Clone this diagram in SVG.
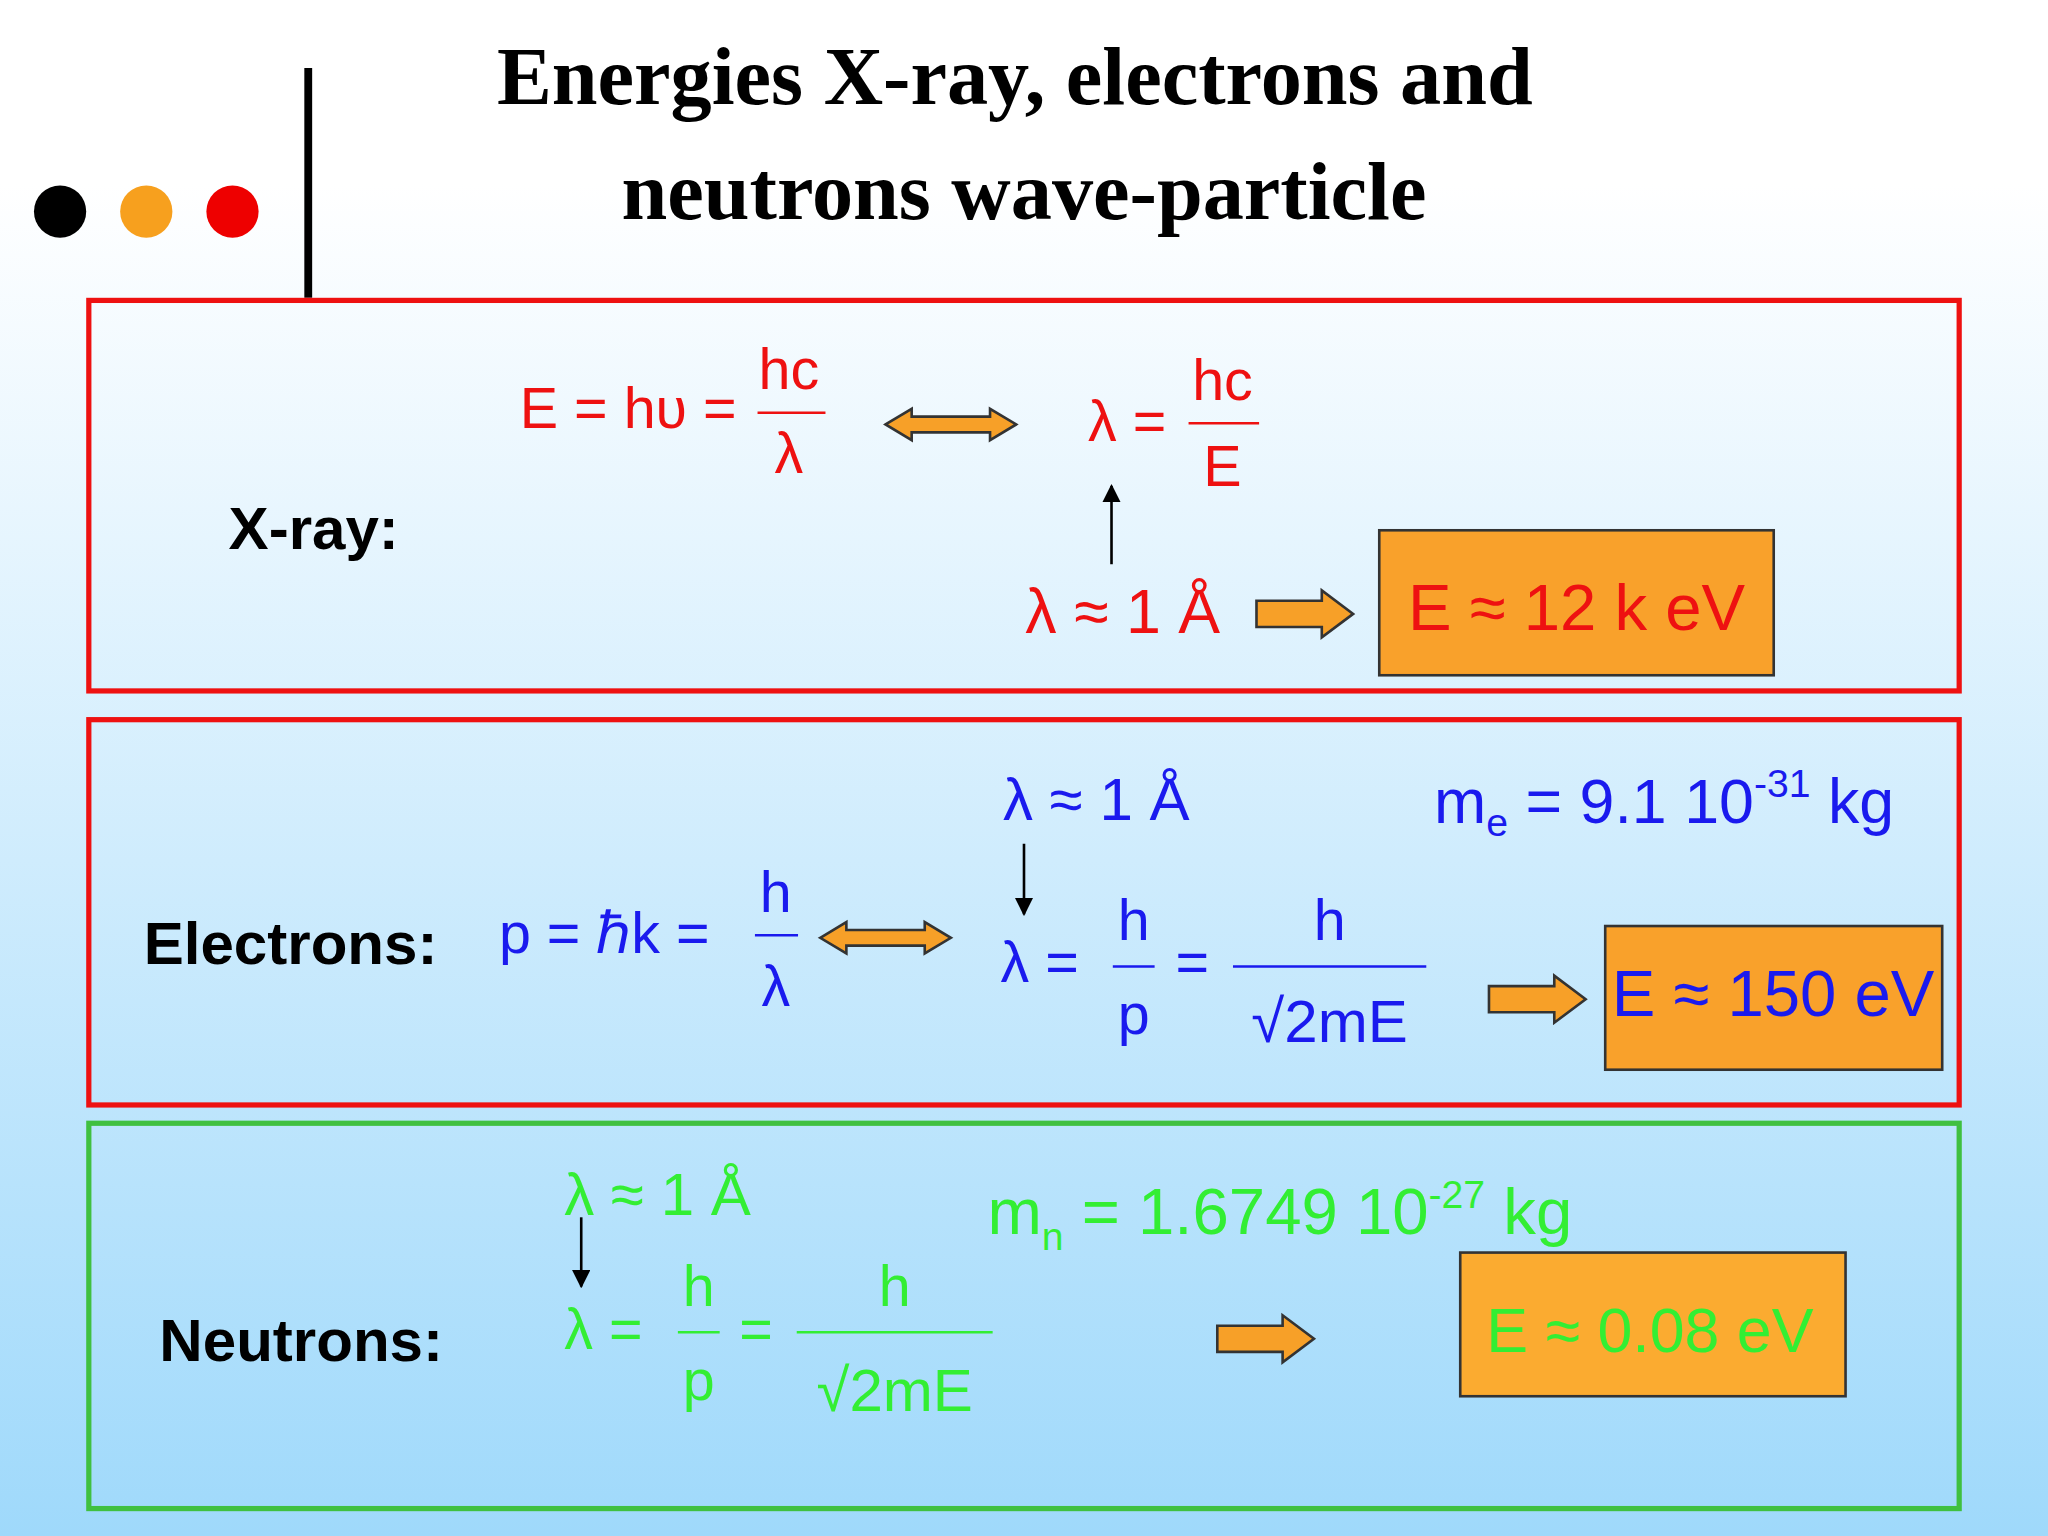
<svg xmlns="http://www.w3.org/2000/svg" width="2048" height="1536" viewBox="0 0 2048 1536">
<defs>
<linearGradient id="bg" x1="0" y1="0" x2="0" y2="1"><stop offset="0" stop-color="#ffffff"/><stop offset="0.12" stop-color="#ffffff"/><stop offset="1" stop-color="#9fd9fb"/></linearGradient>
<marker id="ah" viewBox="0 0 10 10" refX="9" refY="5" markerWidth="7" markerHeight="7" orient="auto"><path d="M0,0 L10,5 L0,10 z" fill="#000"/></marker>
<g id="barrow"><path d="M0,-10 L50,-10 L50,-18 L74,0 L50,18 L50,10 L0,10 z" fill="#f7a028" stroke="#333" stroke-width="2"/></g>
<g id="darrow"><path d="M0,0 L20,-12 L20,-6 L80,-6 L80,-12 L100,0 L80,12 L80,6 L20,6 L20,12 z" fill="#f7a028" stroke="#333" stroke-width="2"/></g>
</defs>
<style>
.m{font-family:"Liberation Sans",Arial,sans-serif;font-size:44px}
.b{font-family:"Liberation Sans",Arial,sans-serif;font-size:46px;font-weight:bold;fill:#000}
.t{font-family:"Liberation Serif","DejaVu Serif",serif;font-size:63px;font-weight:bold;fill:#000}
.r{fill:#ee1111}.bl{fill:#1a1aee}.g{fill:#33ee33}
.fr{stroke-width:2}
</style>
<rect width="2048" height="1536" fill="url(#bg)"/>
<g transform="scale(1.30612)">
<g id="title">
<text class="t" x="777" y="80" text-anchor="middle">Energies X-ray, electrons and</text>
<text class="t" x="784" y="168" text-anchor="middle">neutrons wave-particle</text>
<circle cx="46" cy="162" r="20" fill="#000"/><circle cx="112" cy="162" r="20" fill="#f7a01e"/><circle cx="178" cy="162" r="20" fill="#ee0000"/>
<line x1="236" y1="52" x2="236" y2="228" stroke="#000" stroke-width="6"/>
</g>
<g id="xray">
<rect x="68" y="230" width="1432" height="299" fill="none" stroke="#ee1111" stroke-width="4"/>
<text class="b" x="175" y="420">X-ray:</text>
<text class="m r" x="398" y="328">E = hυ =</text>
<text class="m r" x="604" y="298" text-anchor="middle">hc</text><line x1="580" y1="316" x2="632" y2="316" stroke="#ee1111" class="fr"/><text class="m r" x="604" y="362" text-anchor="middle">λ</text>
<text class="m r" x="833" y="338">λ =</text>
<text class="m r" x="936" y="306" text-anchor="middle">hc</text><line x1="910" y1="324" x2="964" y2="324" stroke="#ee1111" class="fr"/><text class="m r" x="936" y="372" text-anchor="middle">E</text>
<text class="m r" x="785" y="485" style="font-size:48px">λ ≈ 1 Å</text>
<rect x="1056" y="406" width="302" height="111" fill="#f9a12b" stroke="#333" stroke-width="2"/>
<text class="m r" x="1078" y="482" style="font-size:50px">E ≈ 12 k eV</text>
</g>
<g id="electrons">
<rect x="68" y="551" width="1432" height="295" fill="none" stroke="#ee1111" stroke-width="4"/>
<text class="b" x="110" y="738">Electrons:</text>
<text class="m bl" x="382" y="730">p = ℏk =</text>
<text class="m bl" x="594" y="698" text-anchor="middle">h</text><line x1="578" y1="716" x2="611" y2="716" stroke="#1a1aee" class="fr"/><text class="m bl" x="594" y="770" text-anchor="middle">λ</text>
<text class="m bl" x="768" y="628" style="font-size:46px">λ ≈ 1 Å</text>
<text class="m bl" x="1098" y="630" style="font-size:48px">m<tspan dy="10" font-size="30">e</tspan><tspan dy="-10"> = 9.1 10</tspan><tspan dy="-20" font-size="30">-31</tspan><tspan dy="20"> kg</tspan></text>
<text class="m bl" x="766" y="752">λ =</text>
<text class="m bl" x="868" y="720" text-anchor="middle">h</text><line x1="852" y1="740" x2="884" y2="740" stroke="#1a1aee" class="fr"/><text class="m bl" x="868" y="792" text-anchor="middle">p</text>
<text class="m bl" x="900" y="752">=</text>
<text class="m bl" x="1018" y="720" text-anchor="middle">h</text><line x1="944" y1="740" x2="1092" y2="740" stroke="#1a1aee" class="fr"/><text class="m bl" x="1018" y="798" text-anchor="middle" style="font-size:46px">√2mE</text>
<rect x="1229" y="709" width="258" height="110" fill="#f9a12b" stroke="#333" stroke-width="2"/>
<text class="m bl" x="1234" y="778" style="font-size:50px">E ≈ 150 eV</text>
</g>
<g id="neutrons">
<rect x="68" y="860" width="1432" height="295" fill="none" stroke="#40c040" stroke-width="4"/>
<text class="b" x="122" y="1042">Neutrons:</text>
<text class="m g" x="432" y="930" style="font-size:46px">λ ≈ 1 Å</text>
<text class="m g" x="756" y="945" style="font-size:50px">m<tspan dy="12" font-size="30">n</tspan><tspan dy="-12"> = 1.6749 10</tspan><tspan dy="-20" font-size="30">-27</tspan><tspan dy="20"> kg</tspan></text>
<text class="m g" x="432" y="1033">λ =</text>
<text class="m g" x="535" y="1000" text-anchor="middle">h</text><line x1="519" y1="1020" x2="551" y2="1020" stroke="#33ee33" class="fr"/><text class="m g" x="535" y="1072" text-anchor="middle">p</text>
<text class="m g" x="566" y="1033">=</text>
<text class="m g" x="685" y="1000" text-anchor="middle">h</text><line x1="610" y1="1020" x2="760" y2="1020" stroke="#33ee33" class="fr"/><text class="m g" x="685" y="1080" text-anchor="middle" style="font-size:46px">√2mE</text>
<rect x="1118" y="959" width="295" height="110" fill="#fbab30" stroke="#333" stroke-width="2"/>
<text class="m g" x="1138" y="1035" style="font-size:48px">E ≈ 0.08 eV</text>
</g>
<g id="connectors">
<use href="#darrow" x="678" y="325"/>
<use href="#darrow" x="628" y="718"/>
<use href="#barrow" x="962" y="470"/>
<use href="#barrow" x="1140" y="765"/>
<use href="#barrow" x="932" y="1025"/>
<line x1="851" y1="432" x2="851" y2="372" stroke="#000" stroke-width="2" marker-end="url(#ah)"/>
<line x1="784" y1="646" x2="784" y2="700" stroke="#000" stroke-width="2" marker-end="url(#ah)"/>
<line x1="445" y1="932" x2="445" y2="985" stroke="#000" stroke-width="2" marker-end="url(#ah)"/>
</g>
</g>
</svg>
